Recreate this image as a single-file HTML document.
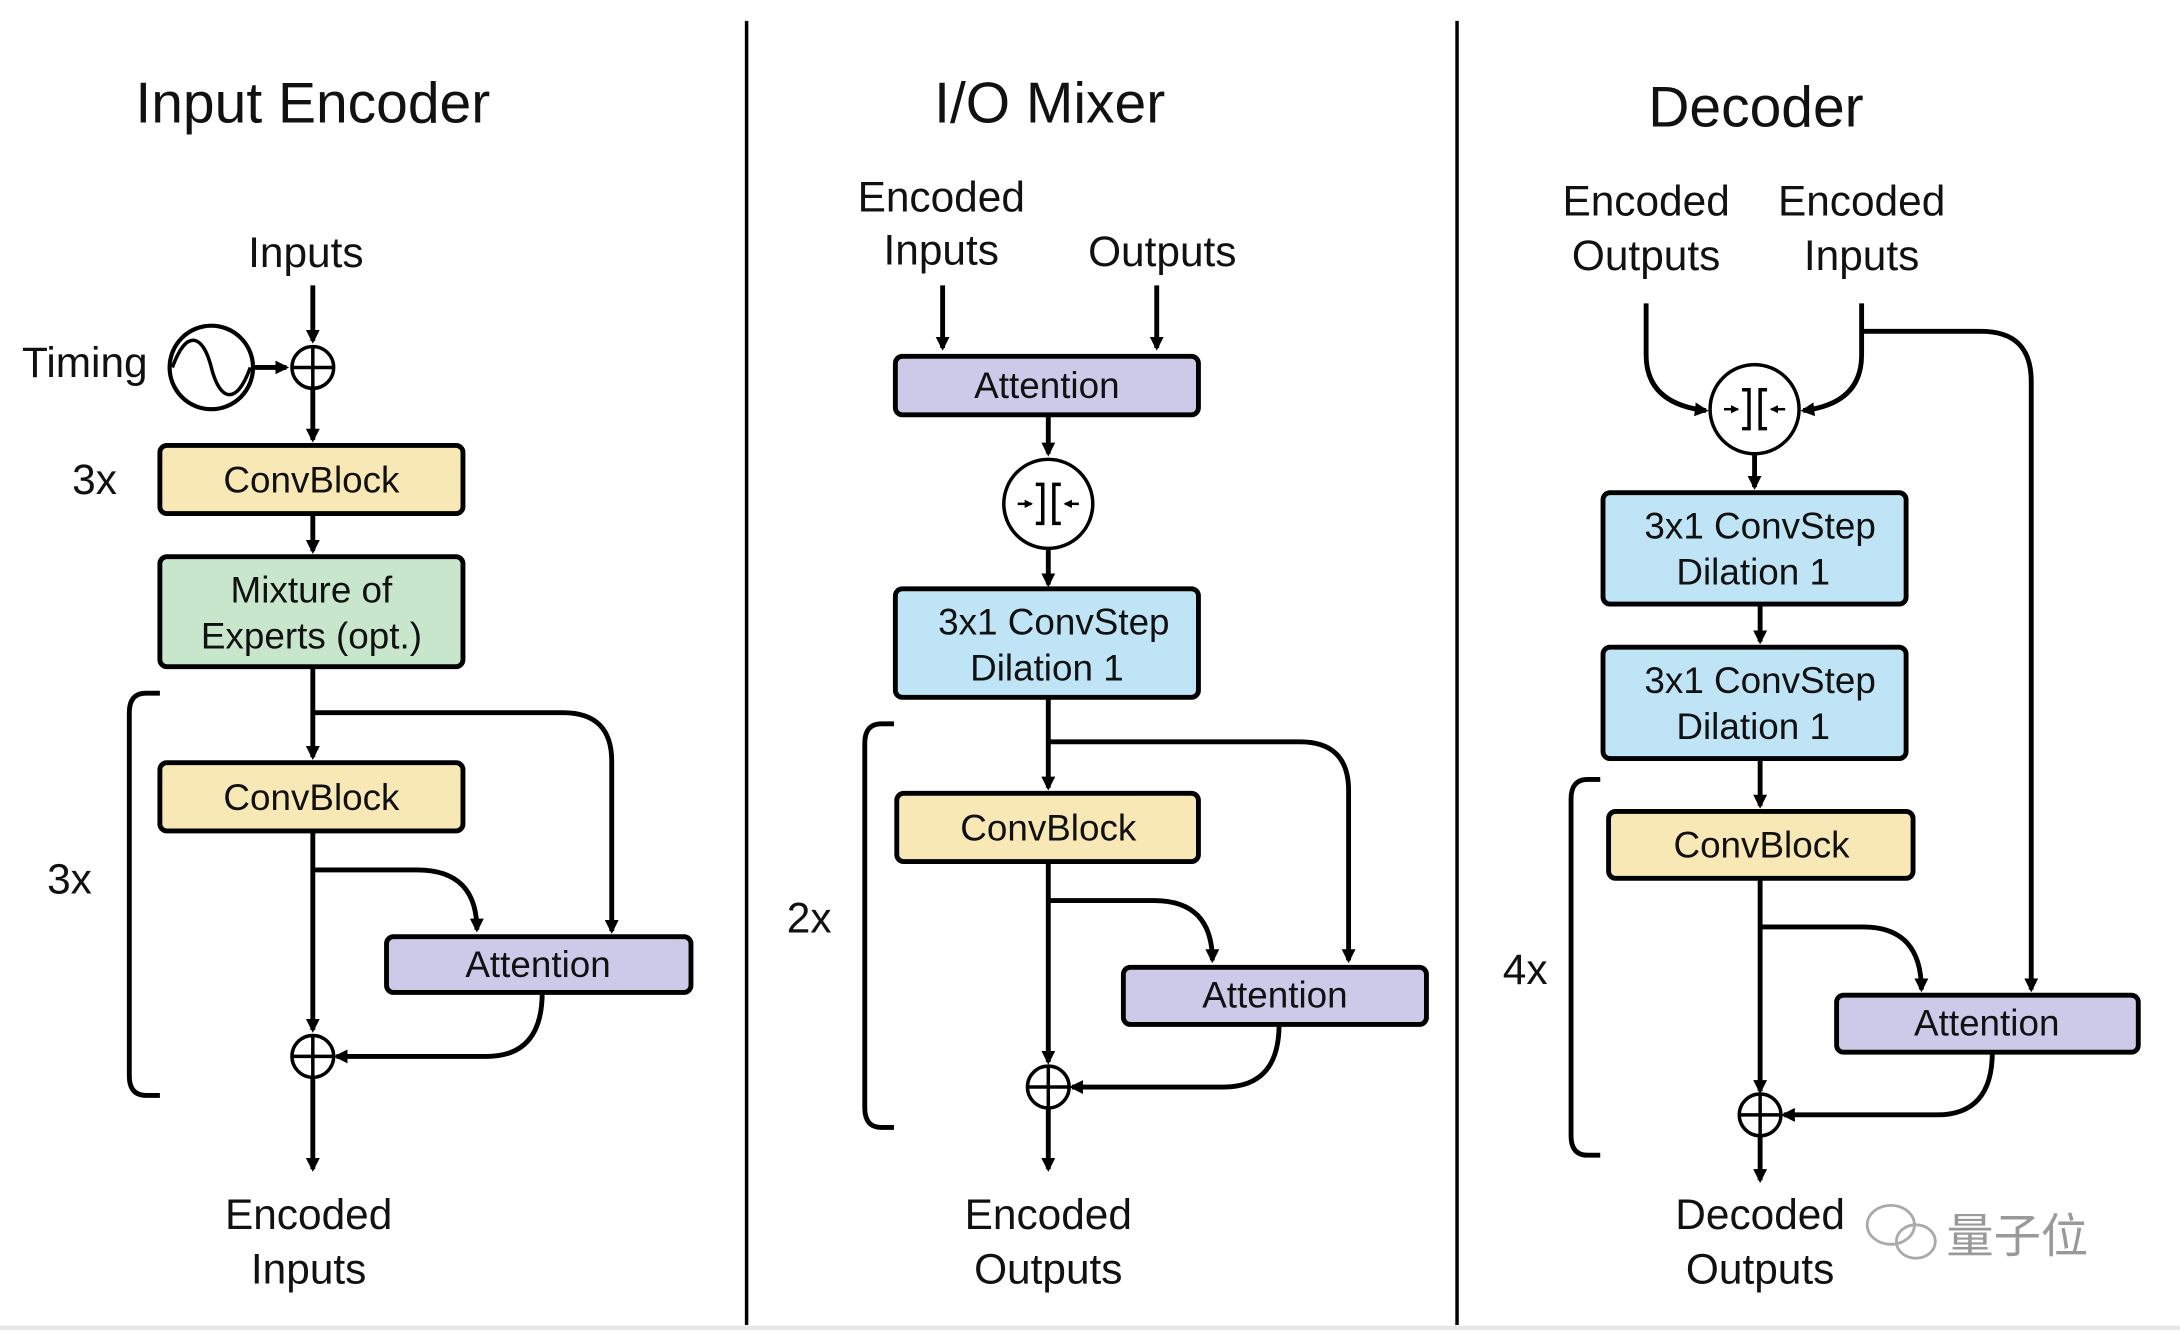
<!DOCTYPE html>
<html><head><meta charset="utf-8"><style>
html,body{margin:0;padding:0;background:#fff;}
svg{display:block;}
text{font-family:"Liberation Sans",sans-serif;fill:#111;}
</style></head><body>
<svg width="2180" height="1332" viewBox="0 0 1568 957" preserveAspectRatio="none" xmlns="http://www.w3.org/2000/svg">
<defs>
<marker id="a" markerWidth="10" markerHeight="10" refX="8" refY="5" orient="auto" markerUnits="userSpaceOnUse"><path d="M0,0 L10,5 L0,10 z" fill="#000"/></marker>
<marker id="s" markerWidth="6" markerHeight="6" refX="5" refY="3" orient="auto" markerUnits="userSpaceOnUse"><path d="M0,0 L6,3 L0,6 z" fill="#000"/></marker>
<g id="plus"><circle r="15" fill="#fff" stroke="#000" stroke-width="2.5"/><path d="M-15,0H15M0,-15V15" stroke="#000" stroke-width="2.5"/></g>
<g id="cat"><circle r="32" fill="#fff" stroke="#000" stroke-width="2.5"/>
<path d="M-9,-14H-4V14H-9M9,-14H4V14H9" fill="none" stroke="#000" stroke-width="2.5"/>
<path d="M-22,0H-12" stroke="#000" stroke-width="1.8" marker-end="url(#s)"/>
<path d="M22,0H12" stroke="#000" stroke-width="1.8" marker-end="url(#s)"/></g>
</defs>
<rect width="1568" height="957" fill="#fff"/>
<g stroke="#000" stroke-width="2.5"><path d="M537,15V952M1048,15V952"/></g>
<path d="M0,954H1568" stroke="#e6e6e6" stroke-width="3"/>

<g font-size="41"><text x="225" y="88" text-anchor="middle">Input Encoder</text>
<text x="755" y="88" text-anchor="middle">I/O Mixer</text>
<text x="1263" y="91" text-anchor="middle">Decoder</text></g>

<g font-size="30.5" text-anchor="middle">
<text x="220" y="192">Inputs</text>
<text x="61" y="271">Timing</text>
<text x="68" y="355">3x</text>
<text x="50" y="642">3x</text>
<text x="222" y="883">Encoded</text><text x="222" y="922">Inputs</text>
<text x="677" y="152">Encoded</text><text x="677" y="190">Inputs</text>
<text x="836" y="191">Outputs</text>
<text x="582" y="670">2x</text>
<text x="754" y="883">Encoded</text><text x="754" y="922">Outputs</text>
<text x="1184" y="155">Encoded</text><text x="1184" y="194">Outputs</text>
<text x="1339" y="155">Encoded</text><text x="1339" y="194">Inputs</text>
<text x="1097" y="707">4x</text>
<text x="1266" y="883">Decoded</text><text x="1266" y="922">Outputs</text>
</g>

<g stroke="#000" stroke-width="3.5" fill="none">
<path d="M225,205V245" marker-end="url(#a)"/>
<path d="M182,264H206" marker-end="url(#a)"/>
<path d="M225,279V316" marker-end="url(#a)"/>
<path d="M225,369V396" marker-end="url(#a)"/>
<path d="M225,479V544" marker-end="url(#a)"/>
<path d="M225,512H405Q440,512 440,547V669" marker-end="url(#a)"/>
<path d="M225,597V740" marker-end="url(#a)"/>
<path d="M225,625H300Q343,625 343,668" marker-end="url(#a)"/>
<path d="M390,713Q390,759 350,759H242" marker-end="url(#a)"/>
<path d="M225,774V840" marker-end="url(#a)"/>
<path d="M115,498H105Q93,498 93,512V773Q93,787 105,787H115"/>
<path d="M678,205V250" marker-end="url(#a)"/>
<path d="M832,205V250" marker-end="url(#a)"/>
<path d="M754,298V326" marker-end="url(#a)"/>
<path d="M754,394V420" marker-end="url(#a)"/>
<path d="M754,501V566" marker-end="url(#a)"/>
<path d="M754,533H935Q970,533 970,568V690" marker-end="url(#a)"/>
<path d="M754,619V763" marker-end="url(#a)"/>
<path d="M754,647H830Q872,647 872,690" marker-end="url(#a)"/>
<path d="M920,736Q920,781 880,781H771" marker-end="url(#a)"/>
<path d="M754,796V840" marker-end="url(#a)"/>
<path d="M643,520H634Q622,520 622,534V796Q622,810 634,810H643"/>
<path d="M1184,218V255Q1184,290 1227,295" marker-end="url(#a)"/>
<path d="M1339,218V255Q1339,290 1297,295" marker-end="url(#a)"/>
<path d="M1339,238H1425Q1461,238 1461,274V711" marker-end="url(#a)"/>
<path d="M1262,326V350" marker-end="url(#a)"/>
<path d="M1266,434V461" marker-end="url(#a)"/>
<path d="M1266,545V579" marker-end="url(#a)"/>
<path d="M1266,631V784" marker-end="url(#a)"/>
<path d="M1266,666H1340Q1382,666 1382,711" marker-end="url(#a)"/>
<path d="M1433,756Q1433,801 1393,801H1283" marker-end="url(#a)"/>
<path d="M1266,816V848" marker-end="url(#a)"/>
<path d="M1151,560H1142Q1130,560 1130,574V816Q1130,830 1142,830H1151"/>
</g>

<circle cx="152" cy="264" r="30" fill="none" stroke="#000" stroke-width="3"/>
<path d="M124,264 C134,236 146,240 152,264 C158,288 170,292 180,264" fill="none" stroke="#000" stroke-width="2.5"/>
<use href="#plus" x="225" y="264"/>
<use href="#plus" x="225" y="759"/>
<use href="#plus" x="754" y="781"/>
<use href="#plus" x="1266" y="801"/>
<use href="#cat" x="754" y="362"/>
<use href="#cat" x="1262" y="294"/>

<g stroke="#000" stroke-width="3.5">
<rect x="115" y="320" width="218" height="49" rx="5" fill="#f8e8b6"/>
<rect x="115" y="400" width="218" height="79" rx="5" fill="#c8e6cc"/>
<rect x="115" y="548" width="218" height="49" rx="5" fill="#f8e8b6"/>
<rect x="278" y="673" width="219" height="40" rx="5" fill="#cdc9e8"/>
<rect x="644" y="256" width="218" height="42" rx="5" fill="#cdc9e8"/>
<rect x="644" y="423" width="218" height="78" rx="5" fill="#bfe4f5"/>
<rect x="645" y="570" width="217" height="49" rx="5" fill="#f8e8b6"/>
<rect x="808" y="695" width="218" height="41" rx="5" fill="#cdc9e8"/>
<rect x="1153" y="354" width="218" height="80" rx="5" fill="#bfe4f5"/>
<rect x="1153" y="465" width="218" height="80" rx="5" fill="#bfe4f5"/>
<rect x="1157" y="583" width="219" height="48" rx="5" fill="#f8e8b6"/>
<rect x="1321" y="715" width="217" height="41" rx="5" fill="#cdc9e8"/>
</g>
<g font-size="26.5" text-anchor="middle">
<text x="224" y="354">ConvBlock</text>
<text x="224" y="433">Mixture of</text><text x="224" y="466">Experts (opt.)</text>
<text x="224" y="582">ConvBlock</text>
<text x="387" y="702">Attention</text>
<text x="753" y="286">Attention</text>
<text x="758" y="456">3x1 ConvStep</text><text x="753" y="489">Dilation 1</text>
<text x="754" y="604">ConvBlock</text>
<text x="917" y="724">Attention</text>
<text x="1266" y="387">3x1 ConvStep</text><text x="1261" y="420">Dilation 1</text>
<text x="1266" y="498">3x1 ConvStep</text><text x="1261" y="531">Dilation 1</text>
<text x="1267" y="616">ConvBlock</text>
<text x="1429" y="744">Attention</text>
</g>

<g fill="none" stroke="#aaa" stroke-width="2">
<ellipse cx="1360" cy="880" rx="17" ry="14"/><ellipse cx="1378" cy="892" rx="14" ry="12"/>
</g>
<text x="1400" y="900" font-size="34" style="fill:#999;font-family:'Liberation Sans','Noto Sans CJK SC',sans-serif">量子位</text>
</svg>
</body></html>
